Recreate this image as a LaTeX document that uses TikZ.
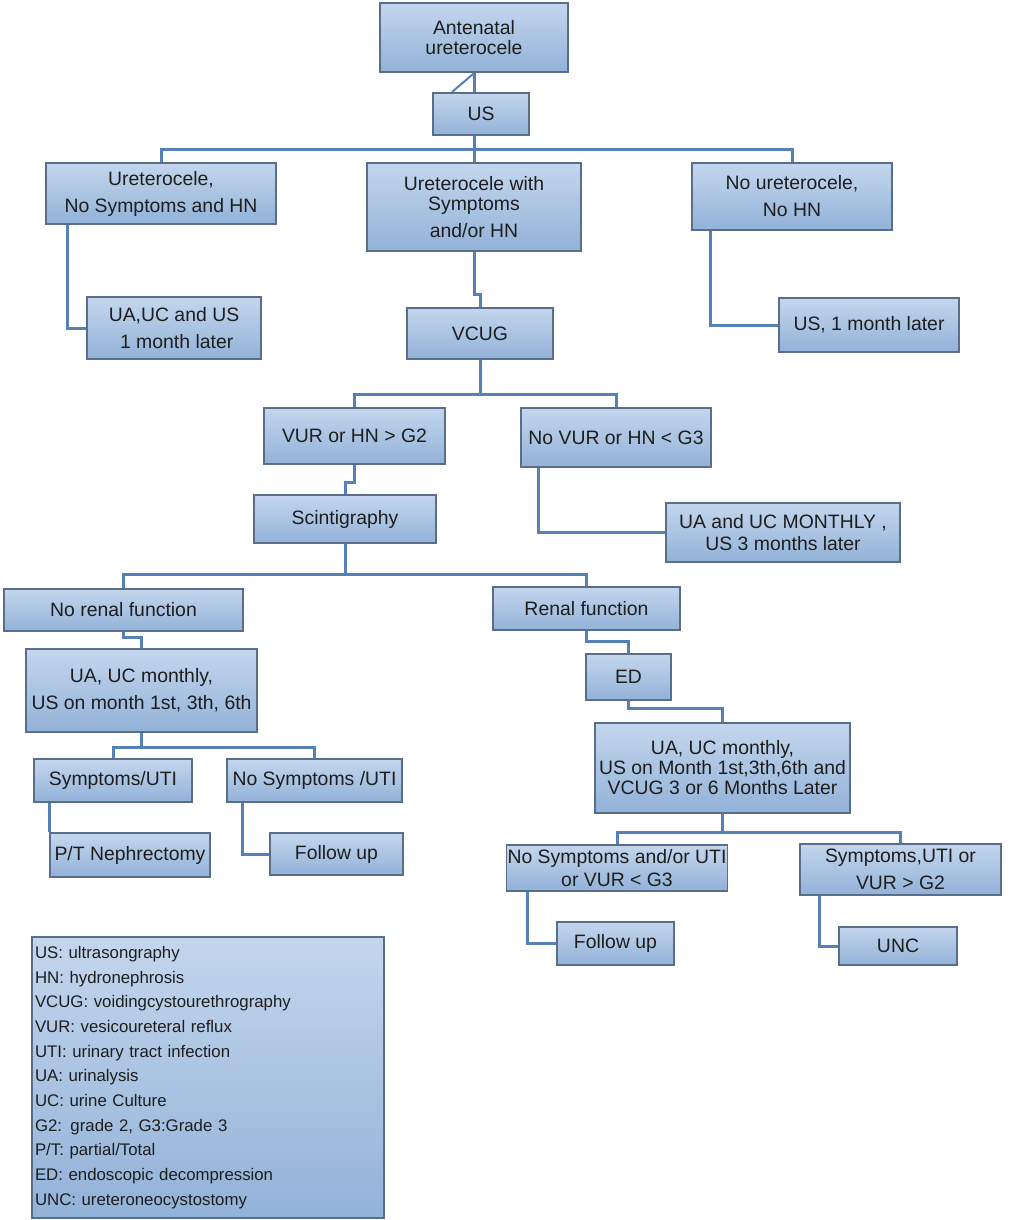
\documentclass[tikz,border=0pt]{standalone}
\usepackage{fontspec}
\setmainfont{Liberation Sans}
\usepackage{tikz}
\usetikzlibrary{calc,backgrounds}
\definecolor{boxtop}{RGB}{196,214,237}
\definecolor{boxbottom}{RGB}{146,178,216}
\definecolor{boxedge}{RGB}{90,110,138}
\definecolor{linkblue}{RGB}{86,128,184}
\definecolor{textgray}{RGB}{30,30,30}

\begin{document}
\begin{tikzpicture}[x=1pt, y=-1pt,
  box/.style={draw=boxedge, line width=1.5pt, top color=boxtop, bottom color=boxbottom,
    align=center, inner sep=1pt, text=textgray, font=\fontsize{19.4}{27}\selectfont},
  link/.style={draw=linkblue, line width=3pt}]
  \useasboundingbox (0,0) rectangle (1033,1220);
  \node[box, line width=2.5pt, font=\fontsize{19.4}{20.5}\selectfont, minimum width=188pt, minimum height=69pt] (top) at (474,37.5) {Antenatal\\ureterocele};
  \node[box, minimum width=96pt, minimum height=42pt] (us) at (481,114) {US};
  \node[box, minimum width=230pt, minimum height=61pt] (uwn) at (161,193.5) {Ureterocele,\\No Symptoms and HN};
  \node[box, font=\fontsize{19.4}{20}\selectfont, minimum width=214pt, minimum height=88pt] (uws) at (474,207) {Ureterocele with\\Symptoms\\[7pt]and/or HN};
  \node[box, minimum width=200pt, minimum height=67pt] (nouc) at (792,196.5) {No ureterocele,\\No HN};
  \node[box, minimum width=174pt, minimum height=62pt] (uuc) at (174,328) {UA,UC and US\\\ 1 month later};
  \node[box, minimum width=180pt, minimum height=54pt] (us1) at (869,325) {US, 1 month later};
  \node[box, minimum width=146pt, minimum height=51pt] (vcug) at (480,333.5) {VCUG};
  \node[box, minimum width=181pt, minimum height=56pt] (vur) at (354.5,436) {VUR or HN > G2};
  \node[box, minimum width=190pt, minimum height=59pt] (novur) at (616,437.5) {No VUR or HN < G3};
  \node[box, minimum width=182pt, minimum height=48pt] (scint) at (345,519) {Scintigraphy};
  \node[box, font=\fontsize{19.4}{22}\selectfont, minimum width=234pt, minimum height=59pt] (uam) at (783,532.5) {UA and UC MONTHLY ,\\US 3 months later};
  \node[box, minimum width=239pt, minimum height=42pt] (nrf) at (123.5,610) {No renal function};
  \node[box, minimum width=187pt, minimum height=43pt] (rf) at (586.5,608.5) {Renal function};
  \node[box, minimum width=231pt, minimum height=83pt] (uan) at (141.5,690.5) {UA, UC monthly,\\US on month 1st, 3th, 6th};
  \node[box, minimum width=85pt, minimum height=46pt] (ed) at (628.5,677) {ED};
  \node[box, font=\fontsize{19.4}{20}\selectfont, minimum width=255pt, minimum height=90pt] (uar) at (722.5,768) {UA, UC monthly,\\US on Month 1st,3th,6th and\\VCUG 3 or 6 Months Later};
  \node[box, minimum width=158pt, minimum height=43pt] (sym) at (113,780.5) {Symptoms/UTI};
  \node[box, minimum width=175pt, minimum height=43pt] (nosym) at (314.5,780.5) {No Symptoms /UTI};
  \node[box, minimum width=160pt, minimum height=44pt] (ptn) at (130,855) {P/T Nephrectomy};
  \node[box, minimum width=133pt, minimum height=42pt] (fu1) at (336.5,854) {Follow up};
  \node[box, font=\fontsize{19.4}{23}\selectfont, minimum width=220pt, minimum height=46pt] (nos2) at (617,868) {No Symptoms and/or UTI\\or VUR < G3};
  \node[box, minimum width=201pt, minimum height=51pt] (sym2) at (900.5,869.5) {Symptoms,UTI or\\VUR > G2};
  \node[box, minimum width=117pt, minimum height=43pt] (fu2) at (615.5,943.5) {Follow up};
  \node[box, minimum width=118pt, minimum height=38pt] (unc) at (898,946) {UNC};
  \node[box, line width=2.5pt, align=left, text width=346pt, inner xsep=3pt, minimum height=281pt,
    font=\fontsize{16.8}{24.67}\selectfont] (legend) at (208,1077.5)
    {US: ultrasongraphy\\HN: hydronephrosis\\VCUG: voidingcystourethrography\\VUR: vesicoureteral reflux\\
     UTI: urinary tract infection\\UA: urinalysis\\UC: urine Culture\\G2: grade 2, G3:Grade 3\\
     P/T: partial/Total\\ED: endoscopic decompression\\UNC: ureteroneocystostomy};
  \coordinate (bus1) at (474,149);
  \coordinate (bus2) at (480,394);
  \coordinate (bus3) at (345,574);
  \coordinate (bus4) at (141.5,747);
  \coordinate (bus5) at (722.5,832);
  \coordinate (stray) at (452,92);
  \begin{scope}[on background layer]
    \draw[link] (top.south) -- (uws.north);
    \draw[link, line width=2pt] (top.south) -- (stray);
    \draw[link] (uwn.north) |- (bus1) -| (nouc.north);
    \draw[link] ([xshift=22pt]uwn.south west) |- (uuc.west);
    \draw[link] ([xshift=19pt]nouc.south west) |- (us1.west);
    \draw[link] (uws.south) -- ++(0,43) -| (vcug.north);
    \draw[link] (vcug.south) -- (bus2);
    \draw[link] (vur.north) |- (bus2) -| (novur.north);
    \draw[link] (vur.south) -- ++(0,18) -| (scint.north);
    \draw[link] ([xshift=18pt]novur.south west) |- (uam.west);
    \draw[link] (scint.south) -- (bus3);
    \draw[link] (nrf.north) |- (bus3) -| (rf.north);
    \draw[link] (nrf.south) -- ++(0,6) -| (uan.north);
    \draw[link] (uan.south) -- (bus4);
    \draw[link] (sym.north) |- (bus4) -| (nosym.north);
    \draw[link] (sym.south -| ptn.west) -- (ptn.north west);
    \draw[link] ([xshift=16pt]nosym.south west) |- (fu1.west);
    \draw[link] (rf.south) -- ++(0,11) -| (ed.north);
    \draw[link] (ed.south) -- ++(0,8) -| (uar.north);
    \draw[link] (uar.south) -- (bus5);
    \draw[link] (nos2.north) |- (bus5) -| (sym2.north);
    \draw[link] ([xshift=22pt]nos2.south west) |- (fu2.west);
    \draw[link] ([xshift=20pt]sym2.south west) |- (unc.west);
  \end{scope}
\end{tikzpicture}
\end{document}
